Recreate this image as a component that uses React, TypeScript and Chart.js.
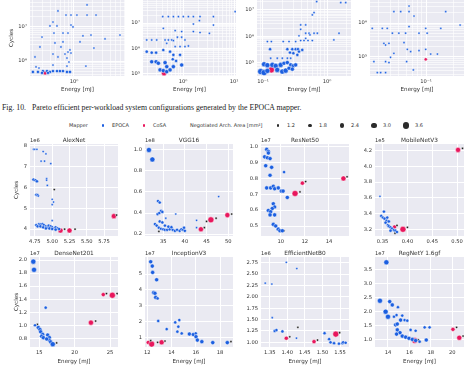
import React, { useEffect, useRef } from "react";
import { Chart, registerables } from "chart.js";

Chart.register(...registerables);

// ---------------- data: [energy (mJ), cycles (axis units), negotiated arch. area (mm²)] ----------------
// upper (cropped) figure, log-log
const topAEpoca = [
  [1.65, 4.3e7, 1.2], [0.541, 2.87e7, 1.2], [0.736, 2.19e7, 1.2], [0.891, 2.19e7, 1.2], [1.12, 2.19e7, 1.2],
  [1.65, 2.19e7, 1.2], [2.33, 2.19e7, 1.2], [0.447, 1.37e7, 1.2], [0.398, 1.05e7, 1.2], [0.521, 1.05e7, 1.2],
  [0.891, 1.12e7, 1.2], [0.962, 9.8e6, 1.2], [0.464, 6.5e6, 1.2], [0.656, 6.5e6, 1.2], [0.794, 6.5e6, 1.2],
  [1.41, 5.4e6, 1.2], [1.92, 5.7e6, 1.2], [0.293, 5.0e6, 1.2], [0.482, 3.35e6, 1.2], [0.656, 3.6e6, 1.2],
  [1.26, 3.6e6, 1.2], [3.29, 4.4e6, 1.2], [5.84, 5.7e6, 1.2], [0.271, 2.56e6, 1.2], [0.607, 2.56e6, 1.2],
  [2.15, 2.39e6, 1.2], [0.858, 2.1e6, 1.2], [0.447, 1.6e6, 1.2], [0.708, 1.6e6, 1.2], [0.794, 1.83e6, 1.2],
  [0.891, 1.71e6, 1.2], [0.224, 1.31e6, 1.2], [0.541, 1.31e6, 1.2], [0.764, 1.22e6, 1.2], [0.825, 9.35e5, 1.2],
  [0.233, 6.7e5, 1.2], [0.261, 6.25e5, 1.2], [0.447, 7.6e5, 1.2], [0.764, 7.1e5, 1.2], [1.58, 7.1e5, 1.2],
  [0.207, 4.8e5, 1.8], [0.251, 4.8e5, 1.8], [0.304, 5.1e5, 1.8], [0.355, 5.1e5, 1.8], [0.398, 4.8e5, 1.8],
  [0.447, 5.1e5, 1.8], [0.521, 5.1e5, 1.8], [0.584, 5.1e5, 1.8], [0.656, 5.1e5, 1.8], [0.764, 4.8e5, 1.8],
  [0.858, 4.8e5, 1.8], [0.369, 4.5e5, 1.8], [0.293, 4.5e5, 1.8],
];
const topACosa = [[0.33, 4.5e5, 2.4]];

const topBEpoca = [
  [0.4, 1.77e7, 1.2], [0.515, 1.77e7, 1.2], [0.646, 1.77e7, 1.2], [0.81, 1.77e7, 1.2], [1.01, 1.77e7, 1.2],
  [1.27, 1.77e7, 1.2], [1.59, 1.77e7, 1.2], [2.15, 1.77e7, 1.2], [3.93, 1.77e7, 1.2], [10.5, 2.77e7, 1.2],
  [1.59, 9.1e6, 1.2], [2.09, 1.23e7, 1.2], [3.93, 8.3e6, 1.2], [3.28, 3.95e6, 1.2], [0.41, 6.2e6, 1.2],
  [0.7, 5.0e6, 1.2], [0.94, 4.6e6, 1.2], [1.59, 4.6e6, 1.2], [2.15, 4.2e6, 1.2],
  [0.194, 2.15e6, 1.2], [0.243, 2.15e6, 1.2], [0.305, 2.15e6, 1.2], [0.444, 2.15e6, 1.2], [0.515, 2.15e6, 1.2],
  [0.6, 2.15e6, 1.2], [1.09, 2.15e6, 1.2], [0.646, 2.02e6, 1.2], [0.773, 2.76e6, 1.2], [0.94, 2.76e6, 1.2],
  [0.479, 1.6e6, 1.2], [0.7, 1.17e6, 1.2], [0.873, 1.17e6, 1.2], [1.09, 1.17e6, 1.2], [1.27, 1.25e6, 1.2],
  [0.194, 7.5e5, 1.8], [0.243, 6.85e5, 1.8], [0.296, 6.85e5, 1.8], [0.41, 8.7e5, 1.8], [0.556, 7.5e5, 1.8],
  [0.646, 5.6e5, 1.8], [0.873, 5.6e5, 1.8], [0.243, 3.0e5, 2.4], [0.296, 3.0e5, 2.4], [0.444, 2.77e5, 2.4],
  [0.628, 3.77e5, 1.8], [0.73, 3.24e5, 1.8], [0.328, 2.63e5, 2.4], [0.479, 1.93e5, 2.4], [0.646, 1.93e5, 2.4],
  [0.94, 2.25e5, 2.4], [0.354, 1.44e5, 2.4], [0.41, 1.35e5, 2.4], [0.479, 1.23e5, 2.4], [0.556, 1.44e5, 2.4],
];
const topBCosa = [[0.424, 1.06e5, 3.0]];

const topCEpoca = [
  [0.69, 2.05e7, 1.2], [1.64, 1.88e7, 1.2], [1.96, 1.88e7, 1.2], [0.627, 7.9e6, 1.2], [0.589, 6.5e6, 1.2],
  [0.388, 2.72e6, 1.2], [0.465, 2.72e6, 1.2], [0.388, 1.86e6, 1.2], [0.465, 1.32e6, 1.2], [0.524, 1.32e6, 1.2],
  [0.627, 1.32e6, 1.2], [0.705, 1.32e6, 1.2], [0.365, 1.05e6, 1.2], [0.542, 1.14e6, 1.2],
  [0.117, 6.4e5, 1.2], [0.135, 6.4e5, 1.2], [0.207, 6.4e5, 1.2], [0.255, 6.4e5, 1.2], [0.324, 6.4e5, 1.2],
  [0.388, 6.95e5, 1.2], [0.437, 6.95e5, 1.2], [0.505, 6.95e5, 1.2], [0.589, 6.95e5, 1.2], [0.465, 8.5e5, 1.2],
  [1.28, 7.4e5, 1.2], [1.54, 1.32e6, 1.2],
  [0.129, 3.3e5, 1.8], [0.24, 3.3e5, 1.8], [0.287, 3.3e5, 1.8], [0.324, 3.3e5, 1.8], [0.352, 3.3e5, 1.8],
  [0.365, 2.67e5, 1.8], [0.411, 3.1e5, 1.8], [0.264, 2.46e5, 1.8], [0.298, 2.32e5, 1.8], [0.344, 2.0e5, 1.8],
  [0.132, 1.5e5, 1.2], [0.167, 1.5e5, 1.2], [0.2, 1.5e5, 1.2], [0.24, 1.5e5, 1.2], [0.271, 1.5e5, 1.2],
  [0.104, 8.9e4, 3.0], [0.117, 8.2e4, 3.0], [0.14, 8.4e4, 3.0], [0.158, 7.7e4, 3.0], [0.189, 8.4e4, 3.0],
  [0.213, 9.7e4, 2.4], [0.24, 1.03e5, 2.4], [0.271, 8.4e4, 2.4], [0.297, 7.7e4, 2.4], [0.324, 8.4e4, 2.4],
  [0.092, 4.7e4, 3.6], [0.104, 4.3e4, 3.6], [0.117, 5.0e4, 3.0], [0.167, 5.45e4, 3.0], [0.2, 4.7e4, 3.0],
  [0.226, 5.1e4, 3.0], [0.255, 6.3e4, 2.4], [0.287, 5.8e4, 2.4],
];
const topCCosa = [[0.135, 5.45e4, 3.6]];

const topDEpoca = [
  [0.0648, 3.16e6, 1.2], [0.044, 2.15e6, 1.2], [0.0524, 2.15e6, 1.2], [0.0648, 2.15e6, 1.2], [0.0736, 1.6e6, 1.2],
  [0.1655, 2.15e6, 1.2], [0.0253, 7.0e5, 1.2], [0.0327, 7.0e5, 1.2], [0.0371, 7.0e5, 1.2], [0.0993, 7.0e5, 1.2],
  [0.146, 7.0e5, 1.2], [0.0648, 7.8e5, 1.2], [0.239, 8.7e5, 1.2], [0.0423, 5.0e5, 1.2], [0.05, 5.0e5, 1.2],
  [0.0594, 5.0e5, 1.2], [0.0836, 5.0e5, 1.2], [0.103, 5.0e5, 1.2], [0.0341, 2.52e5, 1.2], [0.0356, 2.25e5, 1.2],
  [0.0388, 2.52e5, 1.2], [0.057, 2.63e5, 1.2], [0.062, 1.68e5, 1.2], [0.0676, 1.43e5, 1.2], [0.0836, 1.53e5, 1.2],
  [0.0993, 1.68e5, 1.2], [0.1128, 1.22e5, 1.2], [0.1337, 1.22e5, 1.2], [0.0264, 7.3e4, 1.2], [0.0356, 7.3e4, 1.2],
  [0.0388, 6.8e4, 1.2], [0.044, 1.28e5, 1.2], [0.0404, 9.8e4, 1.2], [0.061, 7.3e4, 1.2], [0.0723, 4.15e4, 1.2],
  [0.0288, 3.45e4, 1.2], [0.0314, 3.45e4, 1.2], [0.0356, 3.45e4, 1.2],
];
const topDCosa = [[0.0993, 8.55e4, 1.8]];

// Fig. 10 panels
const alexnetEpoca = [
  [4.73, 7.84, 1.2], [4.75, 7.84, 1.2], [4.78, 7.84, 1.2], [4.87, 7.73, 1.2], [4.91, 7.62, 1.2],
  [4.84, 7.27, 1.2], [4.89, 7.27, 1.2], [4.98, 7.15, 1.2], [4.73, 6.38, 1.8], [4.76, 6.35, 1.8],
  [4.78, 6.3, 1.8], [4.92, 6.43, 1.2], [4.92, 6.35, 1.2], [4.93, 6.1, 1.2], [4.77, 5.65, 1.8],
  [4.79, 5.63, 1.8], [4.8, 5.59, 1.2], [5.0, 5.43, 1.2], [5.02, 5.3, 1.2], [5.0, 5.17, 1.2], [5.0, 4.4, 1.2],
  [4.77, 4.19, 1.8], [4.81, 4.24, 1.8], [4.83, 4.22, 1.8], [4.86, 4.24, 1.8], [4.88, 4.19, 1.8],
  [4.91, 4.13, 1.8], [4.93, 4.08, 1.8], [4.95, 4.16, 1.8], [4.98, 4.13, 1.8], [5.0, 4.08, 1.8],
  [5.03, 4.03, 1.8], [5.05, 4.08, 1.8], [5.08, 4.03, 1.8], [5.1, 4.0, 1.8], [4.79, 4.13, 1.8],
  [4.83, 4.13, 1.8], [4.87, 4.08, 1.8], [4.91, 4.03, 1.8], [4.96, 4.03, 1.8], [5.0, 4.0, 1.8], [5.05, 3.97, 1.8],
];
const alexnetCosa = [[5.12, 3.93, 3.0], [5.25, 3.93, 3.0], [5.89, 4.62, 3.0]];
const alexnetBlack = [[5.18, 3.99, 1.2], [5.33, 3.99, 1.2], [5.93, 4.67, 1.2], [5.03, 5.9, 1.2]];

const vgg16Epoca = [
  [31.7, 1.0, 3.0], [32.5, 0.91, 3.0], [33.8, 0.514, 1.8], [34.2, 0.5, 1.8], [33.7, 0.39, 1.8],
  [34.1, 0.4, 1.8], [34.5, 0.42, 1.8], [34.8, 0.41, 1.8], [37.9, 0.39, 1.2], [35.6, 0.35, 1.2],
  [47.8, 0.556, 1.2], [33.1, 0.295, 1.8], [33.5, 0.28, 1.8], [34.0, 0.26, 1.8], [34.5, 0.25, 1.8],
  [35.0, 0.245, 1.8], [35.4, 0.24, 1.8], [35.9, 0.24, 1.8], [36.5, 0.245, 1.8], [37.2, 0.24, 1.8],
  [37.7, 0.23, 1.8], [38.2, 0.24, 1.8], [38.8, 0.23, 1.8], [39.2, 0.245, 1.8], [39.6, 0.24, 1.8],
  [40.0, 0.23, 1.8], [34.2, 0.32, 1.8], [34.8, 0.31, 1.8], [35.4, 0.28, 1.8], [39.8, 0.26, 1.8],
  [36.2, 0.27, 1.8], [36.9, 0.265, 1.8], [42.7, 0.33, 1.2], [42.7, 0.26, 1.2],
];
const vgg16Cosa = [[43.7, 0.245, 3.0], [46.0, 0.335, 3.6], [49.8, 0.38, 3.0]];
const vgg16Black = [[34.0, 0.225, 1.2], [44.5, 0.26, 1.2], [45.0, 0.32, 1.2], [47.2, 0.35, 1.2], [50.8, 0.39, 1.2]];

const resnet50Epoca = [
  [8.84, 0.983, 2.4], [8.98, 0.97, 2.4], [8.98, 0.96, 2.4], [8.67, 0.936, 2.4], [8.9, 0.93, 2.4],
  [9.12, 0.925, 2.4], [8.76, 0.88, 2.4], [9.25, 0.87, 2.4], [10.28, 0.84, 1.8], [9.12, 0.82, 2.4],
  [8.84, 0.74, 2.4], [9.17, 0.74, 2.4], [9.39, 0.75, 2.4], [9.5, 0.735, 2.4], [9.8, 0.74, 2.4],
  [10.05, 0.72, 2.4], [10.2, 0.72, 2.4], [10.55, 0.68, 2.4], [9.39, 0.64, 2.4], [9.5, 0.62, 2.4],
  [9.3, 0.61, 2.4], [8.98, 0.598, 2.4], [9.17, 0.59, 2.4], [9.12, 0.57, 2.4], [9.5, 0.57, 2.4],
  [9.39, 0.51, 2.4], [9.59, 0.5, 2.4], [9.8, 0.48, 2.4], [9.94, 0.47, 2.4], [10.14, 0.47, 2.4],
];
const resnet50Cosa = [[11.19, 0.705, 3.6], [11.8, 0.77, 2.4], [15.2, 0.8, 3.0]];
const resnet50Black = [[11.6, 0.715, 1.2], [12.07, 0.78, 1.2], [15.5, 0.81, 1.2], [10.28, 0.47, 1.2]];

const mobilenetEpoca = [
  [0.3447, 3.62, 1.2], [0.3527, 3.425, 1.8], [0.3473, 3.37, 1.8], [0.3507, 3.35, 1.8], [0.354, 3.335, 1.8],
  [0.358, 3.31, 1.8], [0.356, 3.285, 1.8], [0.3606, 3.255, 1.8], [0.3626, 3.24, 1.8], [0.366, 3.225, 1.8],
  [0.369, 3.21, 1.8], [0.3726, 3.19, 1.8], [0.366, 3.183, 1.8], [0.376, 3.183, 1.8], [0.379, 3.166, 1.8],
  [0.3593, 3.35, 1.8], [0.3626, 3.3, 1.8],
];
const mobilenetCosa = [[0.374, 3.23, 2.4], [0.391, 3.2, 3.6], [0.502, 4.21, 3.0]];
const mobilenetBlack = [[0.379, 3.25, 1.2], [0.4, 3.225, 1.2], [0.511, 4.23, 1.2], [0.375, 3.15, 1.2]];

const densenetEpoca = [
  [14.15, 1.975, 3.0], [14.25, 1.85, 3.0], [15.9, 1.27, 1.8], [14.39, 1.0, 1.8], [14.86, 0.964, 2.4],
  [15.09, 0.934, 2.4], [15.19, 0.9, 2.4], [15.47, 0.86, 2.4], [15.33, 0.83, 2.4], [15.57, 0.81, 2.4],
  [16.18, 0.85, 2.4], [16.42, 0.81, 2.4], [16.42, 0.77, 2.4], [16.6, 0.745, 2.4], [16.9, 0.71, 3.0],
  [16.04, 0.79, 2.4],
];
const densenetCosa = [[22.3, 1.04, 3.0], [24.05, 1.47, 2.4], [25.33, 1.46, 3.6]];
const densenetBlack = [[14.72, 1.015, 1.2], [17.45, 0.73, 1.2], [22.97, 1.065, 1.2], [24.5, 1.485, 1.2], [26.0, 1.485, 1.2]];

const inceptionEpoca = [
  [12.28, 5.77, 2.4], [12.41, 5.5, 2.4], [12.44, 5.1, 2.4], [12.77, 4.64, 2.4], [12.52, 3.83, 2.4],
  [12.63, 3.79, 2.4], [12.69, 3.53, 2.4], [12.85, 3.47, 1.8], [12.9, 2.05, 1.8], [13.6, 1.54, 1.8],
  [14.3, 1.96, 1.8], [14.64, 2.11, 1.8], [14.56, 1.69, 1.8], [14.48, 1.38, 1.8], [14.84, 1.27, 1.8],
  [15.47, 1.23, 2.4], [15.8, 1.2, 2.4], [16.0, 1.27, 1.8], [16.02, 1.06, 2.4], [16.13, 0.85, 2.4],
  [16.5, 0.75, 2.4], [17.4, 0.69, 2.4], [18.6, 0.69, 2.4],
];
const inceptionCosa = [[12.08, 0.7, 2.4], [12.36, 0.6, 3.6], [13.18, 0.71, 3.0]];
const inceptionBlack = [[12.28, 0.81, 1.2], [12.85, 0.71, 1.2], [13.46, 0.79, 1.2], [18.9, 0.75, 1.2]];

const efficientnetEpoca = [
  [1.397, 2.757, 1.2], [1.427, 2.62, 1.2], [1.337, 2.3, 1.2], [1.356, 2.28, 1.2], [1.357, 1.54, 1.2],
  [1.364, 1.25, 1.8], [1.369, 1.27, 1.8], [1.386, 1.24, 1.8], [1.426, 1.09, 1.2], [1.506, 1.2, 1.8],
  [1.519, 1.07, 1.8], [1.523, 1.0, 1.8], [1.533, 0.98, 1.8], [1.547, 0.97, 1.8], [1.557, 0.98, 1.8],
  [1.559, 1.0, 1.8], [1.566, 0.99, 1.8],
];
const efficientnetCosa = [[1.397, 1.09, 2.4], [1.476, 1.015, 2.4], [1.538, 1.18, 3.6]];
const efficientnetBlack = [[1.43, 1.33, 1.2], [1.407, 1.12, 1.2], [1.486, 1.05, 1.2], [1.549, 1.21, 1.2]];

const regnetEpoca = [
  [13.85, 3.77, 3.0], [13.25, 2.4, 3.0], [13.78, 2.01, 3.0], [14.0, 1.83, 3.0], [14.16, 2.37, 2.4],
  [14.4, 2.25, 2.4], [14.93, 2.17, 1.8], [14.56, 1.83, 1.8], [14.8, 1.89, 1.8], [15.33, 1.87, 1.8],
  [15.18, 1.71, 2.4], [15.55, 1.71, 1.8], [15.8, 1.69, 1.8], [14.71, 1.54, 2.4], [14.87, 1.57, 2.4],
  [14.87, 1.36, 2.4], [15.12, 1.26, 2.4], [14.8, 1.21, 2.4], [15.33, 1.14, 2.4], [15.65, 1.1, 2.4],
  [15.96, 1.06, 2.4], [16.27, 1.02, 2.4], [16.58, 0.98, 2.4], [16.11, 1.36, 1.8], [16.58, 1.33, 1.8],
  [16.95, 0.94, 1.8], [17.42, 1.45, 1.8], [17.88, 1.45, 1.8], [17.57, 1.0, 2.4],
];
const regnetCosa = [[16.5, 0.98, 3.6], [20.06, 1.38, 2.4], [20.65, 1.08, 3.0]];
const regnetBlack = [[16.83, 1.0, 1.2], [20.4, 1.45, 1.2], [21.0, 1.14, 1.2], [17.0, 0.93, 1.2]];

// tick values
const topAXTicks = [1];
const topAYTicks = [1e6, 1e7];
const topBXTicks = [1, 10];
const topBYTicks = [1e5, 1e6, 1e7];
const topCXTicks = [0.1, 1];
const topCYTicks = [1e5, 1e6, 1e7];
const topDXTicks = [0.1];
const topDYTicks = [1e5, 1e6];
const alexnetXTicks = [4.75, 5.0, 5.25, 5.5, 5.75];
const alexnetYTicks = [4, 5, 6, 7, 8];
const vgg16XTicks = [35, 40, 45, 50];
const vgg16YTicks = [0.2, 0.4, 0.6, 0.8, 1.0];
const resnet50XTicks = [10, 12, 14];
const resnet50YTicks = [0.5, 0.6, 0.7, 0.8, 0.9, 1.0];
const mobilenetXTicks = [0.35, 0.4, 0.45, 0.5];
const mobilenetYTicks = [3.2, 3.4, 3.6, 3.8, 4.0, 4.2];
const densenetXTicks = [15, 20, 25];
const densenetYTicks = [0.8, 1.0, 1.2, 1.4, 1.6, 1.8, 2.0];
const inceptionXTicks = [12, 14, 16, 18];
const inceptionYTicks = [1, 2, 3, 4, 5];
const efficientnetXTicks = [1.35, 1.4, 1.45, 1.5, 1.55];
const efficientnetYTicks = [1.0, 1.25, 1.5, 1.75, 2.0, 2.25, 2.5, 2.75];
const regnetXTicks = [14, 16, 18, 20];
const regnetYTicks = [1.0, 1.5, 2.0, 2.5, 3.0, 3.5];

const legendAreas = [1.2, 1.8, 2.4, 3.0, 3.6];

// ---------------- styling ----------------
const BLUE = "#1c5fe0";
const PINK = "#e8175d";
const BLACK = "#1e1e1e";
const BG = "#eaeaf2";
const TEXT = "#333333";
const FONT = "DejaVu Sans";
const TICK_SIZE = 5.2;
const LABEL_SIZE = 5.6;
const TITLE_SIZE = 5.8;

const radius = (a: number) => 0.2 + 0.78 * a;

const SUP: Record<string, string> = {
  "0": "⁰", "1": "¹", "2": "²", "3": "³", "4": "⁴", "5": "⁵", "6": "⁶", "7": "⁷", "8": "⁸", "9": "⁹", "-": "⁻",
};
const pow10Label = (v: number) => {
  const e = Math.round(Math.log10(v));
  return "10" + String(e).split("").map((c) => SUP[c]).join("");
};
function logGridTicks(min: number, max: number) {
  const out: number[] = [];
  for (let n = Math.floor(Math.log10(min)); n <= Math.ceil(Math.log10(max)); n++) {
    for (let k = 1; k <= 9; k++) {
      const v = k * Math.pow(10, n);
      if (v > min && v < max) out.push(v);
    }
  }
  return out;
}

interface Ax { min: number; max: number; ticks: number[]; dec?: number; log?: boolean }
interface Spec {
  l: number; t: number; w: number; h: number;
  axL: number; axT: number; axR: number; axB: number;
  x: Ax; y: Ax;
  epoca: number[][]; cosa: number[][]; black?: number[][];
  title?: string; exp?: string;
  xlabel?: boolean; ylabel?: boolean; yPad?: number;
}

const R1 = { t: 144, h: 92, axT: 14, axB: 12 };
const R2 = { t: 257, h: 90, axT: 14, axB: 19 };
const TOP = { t: 0, h: 76, axT: 0, axB: 18 };

const PANELS: Spec[] = [
  { l: 30, w: 95, ...TOP, axL: 30, axR: 8, x: { min: 0.185, max: 7.08, ticks: topAXTicks, log: true },
    y: { min: 3.66e5, max: 6.0e7, ticks: topAYTicks, log: true }, epoca: topAEpoca, cosa: topACosa,
    xlabel: true, ylabel: true, yPad: 8.3 },
  { l: 143, w: 93, ...TOP, axL: 30, axR: 8, x: { min: 0.164, max: 10.9, ticks: topBXTicks, log: true },
    y: { min: 8.3e4, max: 8.0e7, ticks: topBYTicks, log: true }, epoca: topBEpoca, cosa: topBCosa, xlabel: true },
  { l: 257, w: 94, ...TOP, axL: 30, axR: 8, x: { min: 0.0806, max: 2.37, ticks: topCXTicks, log: true },
    y: { min: 3.2e4, max: 2.38e7, ticks: topCYTicks, log: true }, epoca: topCEpoca, cosa: topCCosa, xlabel: true },
  { l: 370, w: 94, ...TOP, axL: 30, axR: 8, x: { min: 0.0239, max: 0.264, ticks: topDXTicks, log: true },
    y: { min: 2.76e4, max: 4.75e6, ticks: topDYTicks, log: true }, epoca: topDEpoca, cosa: topDCosa, xlabel: true },

  { l: 30, w: 88, ...R1, axL: 30, axR: 10, x: { min: 4.68, max: 5.95, ticks: alexnetXTicks, dec: 2 },
    y: { min: 3.663, max: 8.096, ticks: alexnetYTicks, dec: 0 }, epoca: alexnetEpoca, cosa: alexnetCosa,
    black: alexnetBlack, title: "AlexNet", exp: "1e6", ylabel: true, yPad: 13.3 },
  { l: 145, w: 88, ...R1, axL: 30, axR: 10, x: { min: 30.8, max: 51.1, ticks: vgg16XTicks, dec: 0 },
    y: { min: 0.181, max: 1.057, ticks: vgg16YTicks, dec: 1 }, epoca: vgg16Epoca, cosa: vgg16Cosa,
    black: vgg16Black, title: "VGG16", exp: "1e8" },
  { l: 261, w: 88, ...R1, axL: 30, axR: 10, x: { min: 8.37, max: 15.66, ticks: resnet50XTicks, dec: 0 },
    y: { min: 0.437, max: 1.017, ticks: resnet50YTicks, dec: 1 }, epoca: resnet50Epoca, cosa: resnet50Cosa,
    black: resnet50Black, title: "ResNet50", exp: "1e7" },
  { l: 375, w: 89, ...R1, axL: 30, axR: 10, x: { min: 0.3347, max: 0.514, ticks: mobilenetXTicks, dec: 2 },
    y: { min: 3.115, max: 4.285, ticks: mobilenetYTicks, dec: 1 }, epoca: mobilenetEpoca, cosa: mobilenetCosa,
    black: mobilenetBlack, title: "MobileNetV3", exp: "1e5" },

  { l: 30, w: 88, ...R2, axL: 30, axR: 10, x: { min: 13.68, max: 26.13, ticks: densenetXTicks, dec: 0 },
    y: { min: 0.667, max: 2.046, ticks: densenetYTicks, dec: 1 }, epoca: densenetEpoca, cosa: densenetCosa,
    black: densenetBlack, title: "DenseNet201", exp: "1e7", xlabel: true, ylabel: true, yPad: 13.3 },
  { l: 145, w: 88, ...R2, axL: 30, axR: 10, x: { min: 11.81, max: 19.07, ticks: inceptionXTicks, dec: 0 },
    y: { min: 0.415, max: 6.07, ticks: inceptionYTicks, dec: 0 }, epoca: inceptionEpoca, cosa: inceptionCosa,
    black: inceptionBlack, title: "InceptionV3", exp: "1e7", xlabel: true },
  { l: 261, w: 88, ...R2, axL: 30, axR: 10, x: { min: 1.325, max: 1.5756, ticks: efficientnetXTicks, dec: 2 },
    y: { min: 0.897, max: 2.875, ticks: efficientnetYTicks, dec: 2 }, epoca: efficientnetEpoca,
    cosa: efficientnetCosa, black: efficientnetBlack, title: "EfficientNetB0", exp: "1e6", xlabel: true },
  { l: 375, w: 89, ...R2, axL: 30, axR: 10, x: { min: 12.79, max: 21.09, ticks: regnetXTicks, dec: 0 },
    y: { min: 0.75, max: 3.96, ticks: regnetYTicks, dec: 1 }, epoca: regnetEpoca, cosa: regnetCosa,
    black: regnetBlack, title: "RegNetY 1.6gf", exp: "1e7", xlabel: true },
];

function buildAxis(a: Ax, dir: "x" | "y", s: Spec): any {
  const values = a.log ? logGridTicks(a.min, a.max) : a.ticks;
  const isMajor = (v: number) => a.ticks.some((t) => Math.abs(t - v) <= Math.abs(t) * 1e-9);
  const fmt = (v: number) => (!isMajor(v) ? "" : a.log ? pow10Label(v) : v.toFixed(a.dec ?? 0));
  const showTitle = dir === "x" ? !!s.xlabel : !!s.ylabel;
  return {
    type: a.log ? "logarithmic" : "linear",
    position: dir === "x" ? "bottom" : "left",
    min: a.min,
    max: a.max,
    grid: {
      color: "#ffffff",
      lineWidth: (c: any) => (a.log && c.tick && !isMajor(c.tick.value) ? 0.6 : 1),
      drawTicks: false,
    },
    border: { display: false },
    ticks: {
      autoSkip: false,
      maxRotation: 0,
      minRotation: 0,
      includeBounds: false,
      padding: dir === "x" ? 2.5 : 3,
      color: TEXT,
      font: { family: FONT, size: TICK_SIZE },
      callback: (v: any) => fmt(Number(v)),
    },
    title: {
      display: showTitle,
      text: dir === "x" ? "Energy [mJ]" : "Cycles",
      color: TEXT,
      font: { family: FONT, size: LABEL_SIZE },
      padding: dir === "x" ? { top: 0, bottom: 0.6 } : { top: s.yPad ?? 13, bottom: 0 },
    },
    afterBuildTicks: (sc: any) => {
      sc.ticks = values.map((v) => ({ value: v }));
    },
    afterFit: (sc: any) => {
      if (dir === "x") {
        sc.height = s.axB;
        sc.paddingLeft = 0;
        sc.paddingRight = 0;
      } else {
        sc.width = s.axL;
        sc.paddingTop = 0;
        sc.paddingBottom = 0;
      }
    },
  };
}

const bgPlugin = {
  id: "plotBg",
  beforeDraw(chart: any) {
    const { ctx, chartArea: ca } = chart;
    ctx.save();
    ctx.fillStyle = BG;
    ctx.fillRect(ca.left, ca.top, ca.right - ca.left, ca.bottom - ca.top);
    ctx.restore();
  },
};

const textPlugin = (s: Spec) => ({
  id: "panelText",
  afterDraw(chart: any) {
    const { ctx, chartArea: ca } = chart;
    ctx.save();
    ctx.fillStyle = TEXT;
    ctx.textBaseline = "alphabetic";
    if (s.title) {
      ctx.font = `${TITLE_SIZE}px "${FONT}"`;
      ctx.textAlign = "center";
      ctx.fillText(s.title, (ca.left + ca.right) / 2, ca.top - 2);
    }
    if (s.exp) {
      ctx.font = `${TICK_SIZE}px "${FONT}"`;
      ctx.textAlign = "left";
      ctx.fillText(s.exp, ca.left, ca.top - 2);
    }
    ctx.restore();
  },
});

function Panel({ s }: { s: Spec }) {
  const ref = useRef<HTMLCanvasElement>(null);
  const cw = s.axL + s.w + s.axR;
  const ch = s.axT + s.h + s.axB;
  useEffect(() => {
    if (!ref.current) return;
    const mk = (pts: number[][], color: string) => ({
      data: pts.map((p) => ({ x: p[0], y: p[1] })),
      pointBackgroundColor: color,
      backgroundColor: color,
      pointBorderColor: "#ffffff",
      pointBorderWidth: 0.45,
      pointRadius: pts.map((p) => radius(p[2])),
      pointHoverRadius: pts.map((p) => radius(p[2])),
    });
    const chart = new Chart(ref.current, {
      type: "scatter",
      data: { datasets: [mk(s.epoca, BLUE), mk(s.black || [], BLACK), mk(s.cosa, PINK)] },
      options: {
        animation: false,
        responsive: false,
        events: [],
        layout: { autoPadding: false, padding: { left: 0, top: s.axT, right: s.axR, bottom: 0 } },
        plugins: { legend: { display: false }, tooltip: { enabled: false }, title: { display: false } },
        scales: { x: buildAxis(s.x, "x", s), y: buildAxis(s.y, "y", s) },
      } as any,
      plugins: [bgPlugin, textPlugin(s)],
    });
    return () => chart.destroy();
  }, []);
  return (
    <canvas
      ref={ref}
      width={cw}
      height={ch}
      style={{ position: "absolute", left: s.l - s.axL, top: s.t - s.axT, width: cw, height: ch }}
    />
  );
}

function Dot({ x, r, color }: { x: number; r: number; color: string }) {
  return (
    <div
      style={{
        position: "absolute",
        left: x - r,
        top: 125.5 - r,
        width: 2 * r,
        height: 2 * r,
        borderRadius: "50%",
        background: color,
      }}
    />
  );
}

function Label({ x, text }: { x: number; text: string }) {
  return (
    <div
      style={{
        position: "absolute",
        left: x,
        top: 122,
        height: 7,
        lineHeight: "7px",
        fontFamily: FONT,
        fontSize: 5,
        color: TEXT,
        whiteSpace: "pre",
      }}
    >
      {text}
    </div>
  );
}

function Legend() {
  const sizeDotX = [278, 310, 342, 374, 406];
  const sizeLabelX = [287, 319, 351, 383, 415];
  return (
    <>
      <Label x={69} text="Mapper" />
      <Dot x={103} r={1.4} color={BLUE} />
      <Label x={112} text="EPOCA" />
      <Dot x={144} r={1.4} color={PINK} />
      <Label x={153} text="CoSA" />
      <Label x={190} text="Negotiated Arch. Area [mm²]" />
      {legendAreas.map((a, i) => (
        <React.Fragment key={a}>
          <Dot x={sizeDotX[i]} r={radius(a)} color="#2b2b2b" />
          <Label x={sizeLabelX[i]} text={a.toFixed(1)} />
        </React.Fragment>
      ))}
    </>
  );
}

export default function App() {
  return (
    <div
      style={{
        position: "absolute",
        left: 0,
        top: 0,
        width: 474,
        height: 376,
        overflow: "hidden",
        background: "#ffffff",
      }}
    >
      {PANELS.map((s, i) => (
        <Panel key={i} s={s} />
      ))}
      <div
        style={{
          position: "absolute",
          left: 2,
          top: 102.5,
          fontFamily: '"Liberation Serif", serif',
          fontSize: 7.8,
          lineHeight: "9px",
          color: "#222",
          whiteSpace: "pre",
        }}
      >
        {"Fig. 10.   Pareto efficient per-workload system configurations generated by the EPOCA mapper."}
      </div>
      <Legend />
    </div>
  );
}
